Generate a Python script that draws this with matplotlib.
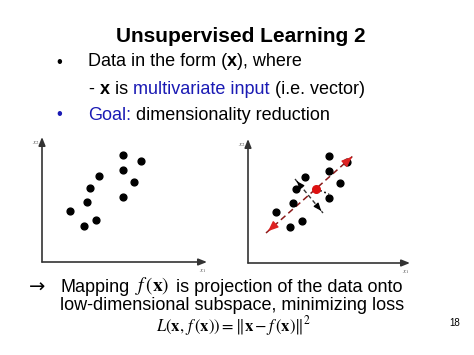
import matplotlib
matplotlib.use("Agg")
import matplotlib.pyplot as plt

# data (axes units, origin at the axis corner)
pts_x = [81, 99, 81, 57, 92, 48, 81, 45, 28, 54, 42]
pts_y = [107, 101, 92, 86, 80, 74, 65, 60, 51, 42, 36]
mean_pt = (68, 74)
pc1 = [(18, 30), (106, 108)]
pc2 = [(47, 84), (75, 50)]

title = "Unsupervised Learning 2"
BLUE = "#1a1ab4"

W, H = 474, 355
fig = plt.figure(figsize=(W / 100, H / 100), dpi=100)
fig.patch.set_facecolor("white")
plt.rcParams['font.family'] = ['Liberation Sans', 'DejaVu Sans']
renderer = fig.canvas.get_renderer()

def fx(px):
    return px / W

def fy(py):
    return 1 - py / H

def chain(x0, y, pieces, size=13):
    """Draw pieces of text one after another, starting at pixel x0."""
    x = x0
    for s, kw in pieces:
        t = fig.text(fx(x), fy(y), s, ha="left", va="center", fontsize=size, **kw)
        bb = t.get_window_extent(renderer)
        x += bb.width
    return x

# ---- text ----
fig.text(fx(241), fy(37), title, ha="center", va="center", fontsize=15, fontweight="bold")
fig.text(fx(59), fy(62), "•", ha="center", va="center", fontsize=12)
chain(88, 62, [("Data in the form (", {}), ("x", {"fontweight": "bold"}), ("), where", {})])
chain(89, 89, [("- ", {}), ("x", {"fontweight": "bold"}), (" is ", {}),
               ("multivariate input", {"color": BLUE}), (" (i.e. vector)", {})])
fig.text(fx(59), fy(115), "•", ha="center", va="center", fontsize=12, color=BLUE)
chain(88, 115, [("Goal:", {"color": BLUE}), (" dimensionality reduction", {})])

fig.text(fx(37), fy(287), "→", ha="center", va="center", fontsize=14, family=["DejaVu Sans"])
fig.text(fx(60), fy(287), "Mapping", ha="left", va="center", fontsize=13)
fig.text(fx(135), fy(286), r"$f\,(\mathbf{x})$", ha="left", va="center", fontsize=14,
         math_fontfamily="stix")
fig.text(fx(176), fy(287), "is projection of the data onto", ha="left", va="center", fontsize=13)
fig.text(fx(60), fy(306), "low-dimensional subspace, minimizing loss", ha="left", va="center", fontsize=13)
fig.text(fx(234), fy(326), r"$L(\mathbf{x},\,f\,(\mathbf{x})) = \Vert\mathbf{x} - f\,(\mathbf{x})\Vert^2$",
         ha="center", va="center", fontsize=12, math_fontfamily="stix")
fig.text(fx(455), fy(323), "18", ha="center", va="center", fontsize=7)

# ---- scatter panels ----
def panel(ox, oy, w, h):
    ax = fig.add_axes([fx(ox), fy(oy), w / W, h / H])
    ax.set_xlim(0, w)
    ax.set_ylim(0, h)
    ax.axis("off")
    ax.annotate("", xy=(w, 0), xytext=(0, 0),
                arrowprops=dict(arrowstyle="-|>,head_length=0.5,head_width=0.2", color="#333333", lw=1.2,
                                shrinkA=0, shrinkB=0))
    ax.annotate("", xy=(0, h), xytext=(0, 0),
                arrowprops=dict(arrowstyle="-|>,head_length=0.5,head_width=0.2", color="#333333", lw=1.2,
                                shrinkA=0, shrinkB=0))
    ax.text(-6, h - 6, r"$x_2$", ha="center", va="center", fontsize=5, color="#555555",
            math_fontfamily="stix")
    ax.text(w - 4, -9, r"$x_1$", ha="center", va="center", fontsize=5, color="#555555",
            math_fontfamily="stix")
    return ax

ax1 = panel(42, 262, 165, 125)
ax1.scatter(pts_x, pts_y, s=24, color="black", zorder=3)

ax2 = panel(248, 263, 162, 124)
ax2.scatter(pts_x, pts_y, s=24, color="black", zorder=3)
ax2.plot([p[0] for p in pc1], [p[1] for p in pc1], ls=(0, (4, 2.5)), color="#8b1a1a", lw=1.1, zorder=2)
ax2.annotate("", xy=pc1[1], xytext=(pc1[1][0] - 6, pc1[1][1] - 5.4),
             arrowprops=dict(arrowstyle="-|>,head_length=0.6,head_width=0.25", color="#dd2222", lw=1))
ax2.annotate("", xy=pc1[0], xytext=(pc1[0][0] + 6, pc1[0][1] + 5.4),
             arrowprops=dict(arrowstyle="-|>,head_length=0.6,head_width=0.25", color="#dd2222", lw=1))
ax2.plot([p[0] for p in pc2], [p[1] for p in pc2], ls=(0, (3, 2)), color="#333333", lw=1.0, zorder=2)
ax2.annotate("", xy=pc2[0], xytext=(pc2[0][0] + 4, pc2[0][1] - 4.8),
             arrowprops=dict(arrowstyle="-|>,head_length=0.45,head_width=0.18", color="black", lw=0.9))
ax2.annotate("", xy=pc2[1], xytext=(pc2[1][0] - 4, pc2[1][1] + 4.8),
             arrowprops=dict(arrowstyle="-|>,head_length=0.45,head_width=0.18", color="black", lw=0.9))
ax2.plot([mean_pt[0], pts_x[6]], [mean_pt[1], pts_y[6] + 4], ls=":", color="black", lw=1.2, zorder=2)
ax2.scatter([mean_pt[0]], [mean_pt[1]], s=30, color="#dd1111", zorder=4)

fig.savefig("out.png", dpi=100, facecolor="white")
